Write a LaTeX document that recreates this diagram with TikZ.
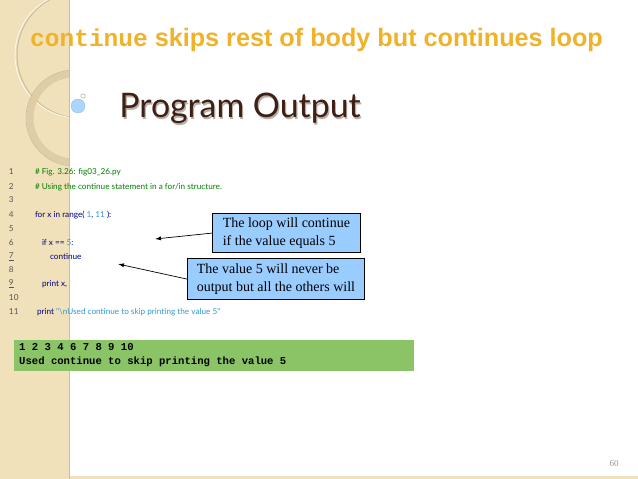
\documentclass[tikz,border=0pt]{standalone}
\usepackage{fontspec}
\setmainfont{Liberation Serif}
\setmonofont{Liberation Mono}
\newfontfamily\titlesans{Liberation Sans}
\newfontfamily\gillish{Lato}
\usetikzlibrary{arrows.meta}
\begin{document}
\begin{tikzpicture}[x=1pt,y=1pt,
  codeline/.style={anchor=west,inner sep=0pt,outer sep=0pt,font=\gillish\fontsize{8.2}{9}\selectfont},
  lineno/.style={codeline,text=numColor},
  callout/.style={draw=black,line width=0.8pt,fill=noteColor,align=left,inner sep=0pt,
    font=\fontsize{14}{18.5}\selectfont},
  pointer/.style={-{Latex[length=6pt,width=4pt]},line width=0.7pt}]
\definecolor{fillColor}{RGB}{255,255,255}
\definecolor{stripColor}{RGB}{240,225,186}
\definecolor{edgeColor}{RGB}{205,190,155}
\definecolor{ringColor}{RGB}{222,205,165}
\definecolor{titleColor}{RGB}{240,178,40}
\definecolor{headColor}{RGB}{62,32,22}
\definecolor{shadowColor}{RGB}{185,175,165}
\definecolor{numColor}{RGB}{85,85,85}
\definecolor{commentColor}{RGB}{0,128,0}
\definecolor{kwColor}{RGB}{0,0,128}
\definecolor{litColor}{RGB}{51,153,204}
\definecolor{noteColor}{RGB}{153,204,255}
\definecolor{outColor}{RGB}{138,196,103}
\definecolor{pageColor}{RGB}{150,150,140}
\path[use as bounding box,fill=fillColor] (0,0) rectangle (638,479);

% left strip with the rings
\path[fill=stripColor] (0,0) rectangle (69,479);
\path[fill=stripColor] (69,0) rectangle (638,3);
\begin{scope}
\path[clip] (0,0) rectangle (69,479);
\path[draw=ringColor!80!gray,line width=1pt] (80,424) circle (63);
\path[draw=white,line width=0.6pt] (78,424) circle (63);
\path[draw=ringColor,line width=7pt] (74,361) circle (44);
\path[draw=ringColor!70!gray,line width=0.5pt] (74,361) circle (48);
\end{scope}
\path[draw=edgeColor,line width=1.2pt] (69.5,0) -- (69.5,479);
\path[draw=ringColor!70!gray,line width=0.6pt] (83,383) circle (2.2);
\path[fill=noteColor!80!white,draw=noteColor!70!gray,line width=0.3pt] (78,373) circle (7);

% titles
\node[anchor=base west,inner sep=0pt,text=titleColor] (title) at (30,432)
  {\fontsize{24.5}{28}\selectfont\ttfamily\bfseries continue\titlesans\fontsize{25.2}{28}\selectfont\ skips rest of body but continues loop};
\node[anchor=base,inner sep=0pt,text=shadowColor,font=\gillish\fontsize{33.8}{36}\selectfont] at (241.2,359.8) {Program Output};
\node[anchor=base,inner sep=0pt,text=headColor,font=\gillish\fontsize{33.8}{36}\selectfont] (heading) at (240,361) {Program Output};

% line numbers
\foreach \n/\y in {1/307,2/292,3/279,4/264,5/250,6/236,8/209,10/181,11/167}
  \node[lineno] (num\n) at (9,\y) {\n};
\node[lineno] (num7) at (9,222) {\underline{7}};
\node[lineno] (num9) at (9,195) {\underline{9}};

% source code
\node[codeline,text=commentColor] (code1) at (35,307) {\# Fig. 3.26: fig03\_26.py};
\node[codeline,text=commentColor] (code2) at (35,292) {\# Using the continue statement in a for/in structure.};
\node[codeline,text=kwColor] (code4) at (35,264) {for x in range( \textcolor{litColor}{1}, \textcolor{litColor}{11} ):};
\node[codeline,text=kwColor] (code6) at (42,236) {if x == \textcolor{litColor}{5}:};
\node[codeline,text=kwColor] (code7) at (50,222) {continue};
\node[codeline,text=kwColor] (code9) at (42,195) {print x,};
\node[codeline,text=kwColor] (code11) at (37,167) {print \textcolor{litColor}{"\textbackslash nUsed continue to skip printing the value 5"}};

% callouts
\node[callout,minimum width=148pt,minimum height=39pt,anchor=south west] (noteLoop) at (212,226)
  {The loop will continue\\if the value equals 5};
\node[callout,minimum width=177pt,minimum height=41pt,anchor=south west] (noteValue) at (187,179)
  {The value 5 will never be\\output but all the others will};
\coordinate (tipLoop) at (155,240);
\coordinate (tipValue) at (118,215);
\draw[pointer] (noteLoop.west) -- (tipLoop);
\draw[pointer] (noteValue.west) -- (tipValue);

% program output
\node[fill=outColor,minimum width=400pt,minimum height=31pt,anchor=south west,inner sep=0pt] (output) at (14,108) {};
\node[anchor=west,inner sep=0pt,align=left,font=\ttfamily\bfseries\fontsize{10.6}{14}\selectfont] (outtext) at (19,124)
  {1 2 3 4 6 7 8 9 10\\Used continue to skip printing the value 5};

\node[text=pageColor,inner sep=0pt,font=\fontsize{9}{10}\selectfont] (pagenum) at (614,15) {60};
\end{tikzpicture}
\end{document}
